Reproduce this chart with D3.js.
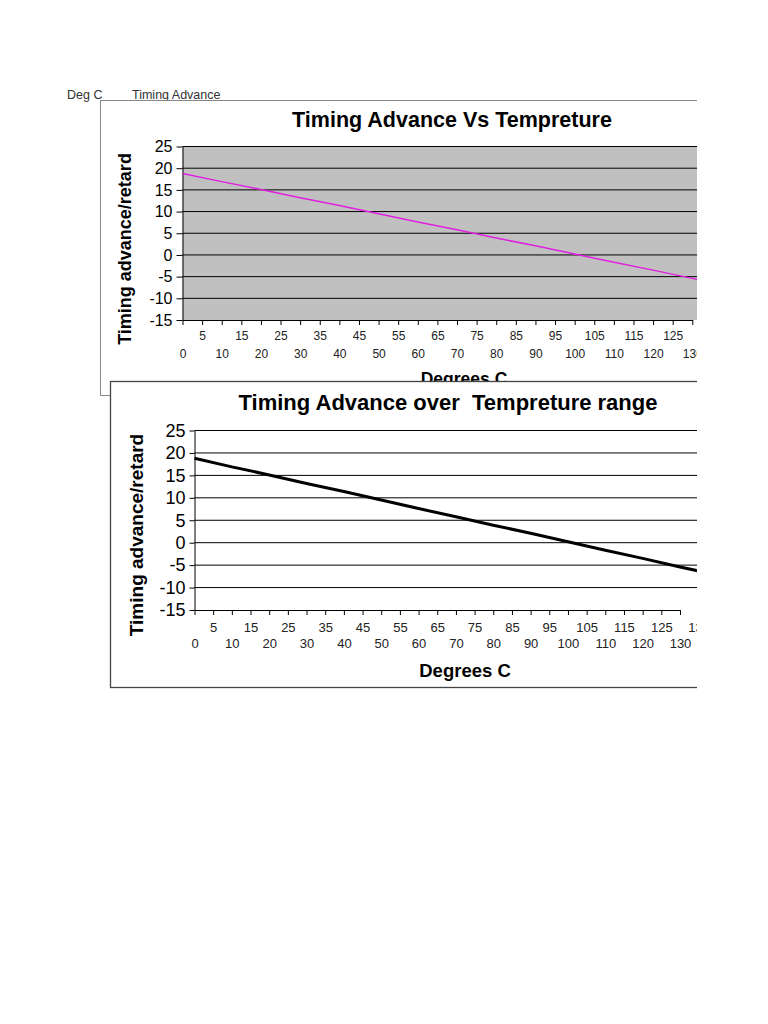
<!DOCTYPE html>
<html>
<head>
  <meta charset="utf-8">
  <script src="https://cdn.jsdelivr.net/npm/d3@7"></script>
  <style type="text/css">
    body {
      margin: 0;
      background: #fff;
    }
    text {
      font-family: Arial, "Liberation Sans", Helvetica, sans-serif;
    }
  </style>
</head>
<body>
  <script type="text/javascript">

  // Spreadsheet data: degrees C vs timing advance
  const degrees = [0, 10, 20, 30, 40, 50, 60, 70, 80, 90, 100, 110, 120, 130, 135];
  const advance = [18.8, 16.9, 15.1, 13.2, 11.4, 9.5, 7.6, 5.8, 3.9, 2.1, 0.2, -1.7, -3.5, -5.4, -6.3];

  const yTicks = [-15, -10, -5, 0, 5, 10, 15, 20, 25];
  const xTicksOdd = [5, 15, 25, 35, 45, 55, 65, 75, 85, 95, 105, 115, 125, 135];
  const xTicksEven = [0, 10, 20, 30, 40, 50, 60, 70, 80, 90, 100, 110, 120, 130];

  const points = degrees.map((d, i) => ({deg: d, adv: advance[i]}));

  const svg = d3.select('body').append('svg')
    .attr('width', 768)
    .attr('height', 1024);

  // header cells of the sheet
  svg.append('text').attr('x', 67).attr('y', 99)
    .attr('font-size', 12.5).attr('fill', '#333').text('Deg C');
  svg.append('text').attr('x', 132).attr('y', 99)
    .attr('font-size', 12.5).attr('fill', '#333').text('Timing Advance');

  // the printed page cuts the charts off on the right
  svg.append('clipPath').attr('id', 'page')
    .append('rect').attr('x', 0).attr('y', 0).attr('width', 697).attr('height', 1024);
  const page = svg.append('g').attr('clip-path', 'url(#page)');

  function drawChart(c) {
    const g = page.append('g');

    // chart frame
    g.append('rect')
      .attr('x', c.frame.x).attr('y', c.frame.y)
      .attr('width', c.frame.w).attr('height', c.frame.h)
      .attr('fill', '#fff')
      .attr('stroke', c.frame.stroke)
      .attr('stroke-width', c.frame.sw);

    const x = d3.scaleLinear().domain([0, 130]).range([c.left, c.x130]);
    const y = d3.scaleLinear().domain([-15, 25]).range([c.bottom, c.top]);

    // plot area
    g.append('rect')
      .attr('x', c.left).attr('y', c.top)
      .attr('width', 800).attr('height', c.bottom - c.top)
      .attr('fill', c.plotFill);

    // gridlines
    g.append('g').selectAll('line').data(yTicks.filter(t => t > -15)).join('line')
      .attr('x1', c.left).attr('x2', 800)
      .attr('y1', d => y(d)).attr('y2', d => y(d))
      .attr('stroke', '#000').attr('stroke-width', 1);

    // y axis (plain hyphen minus like the sheet)
    const gy = g.append('g')
      .attr('transform', `translate(${c.left},0)`)
      .call(d3.axisLeft(y).tickValues(yTicks).tickFormat(d => String(d))
        .tickSize(c.yTickSize).tickSizeOuter(0).tickPadding(c.yPad));
    gy.select('.domain').attr('stroke', '#000');
    gy.selectAll('.tick line').attr('stroke', '#000');
    gy.selectAll('text').attr('font-size', c.yFont).attr('fill', '#000')
      .attr('font-family', 'Arial, "Liberation Sans", sans-serif');

    // x axis, labels in two staggered rows
    const gx1 = g.append('g')
      .attr('transform', `translate(0,${c.bottom})`)
      .call(d3.axisBottom(x).tickValues(xTicksOdd).tickFormat(d => String(d))
        .tickSize(5).tickSizeOuter(0).tickPadding(c.row1Pad));
    const gx2 = g.append('g')
      .attr('transform', `translate(0,${c.bottom})`)
      .call(d3.axisBottom(x).tickValues(xTicksEven).tickFormat(d => String(d))
        .tickSize(5).tickSizeOuter(0).tickPadding(c.row2Pad));
    gx1.select('.domain').attr('stroke', '#000');
    gx2.select('.domain').attr('stroke', '#000');
    [gx1, gx2].forEach(a => {
      a.selectAll('.tick line').attr('stroke', '#000');
      a.selectAll('text').attr('font-size', c.xFont).attr('fill', '#222')
        .attr('font-family', 'Arial, "Liberation Sans", sans-serif');
    });

    // the series
    g.append('path')
      .datum(points)
      .attr('fill', 'none')
      .attr('stroke', c.lineColor)
      .attr('stroke-width', c.lineWidth)
      .attr('d', d3.line().x(d => x(d.deg)).y(d => y(d.adv)));

    // titles
    g.append('text')
      .attr('x', c.title.x).attr('y', c.title.y)
      .attr('text-anchor', 'middle')
      .attr('font-size', c.title.size).attr('font-weight', 'bold')
      .style('white-space', 'pre')
      .text(c.title.text);

    g.append('text')
      .attr('transform', `translate(${c.yTitle.x},${c.yTitle.y}) rotate(-90)`)
      .attr('text-anchor', 'middle')
      .attr('font-size', c.yTitle.size).attr('font-weight', 'bold')
      .text('Timing advance/retard');

    g.append('text')
      .attr('x', c.xTitle.x).attr('y', c.xTitle.y)
      .attr('text-anchor', 'middle')
      .attr('font-size', c.xTitle.size).attr('font-weight', 'bold')
      .text('Degrees C');
  }

  // upper chart
  drawChart({
    frame: {x: 100.5, y: 100.5, w: 700, h: 295, stroke: '#888', sw: 1},
    left: 182.5, x130: 692.3, top: 146.5, bottom: 320,
    plotFill: '#c0c0c0',
    yTickSize: 6, yPad: 4, yFont: 16,
    row1Pad: 6, row2Pad: 24, xFont: 12,
    lineColor: '#e020e0', lineWidth: 1.5,
    title: {x: 452, y: 127, size: 21.5, text: 'Timing Advance Vs Tempreture'},
    yTitle: {x: 131, y: 249, size: 18},
    xTitle: {x: 464, y: 385, size: 17.5}
  });

  // lower chart, drawn over the bottom of the upper one
  drawChart({
    frame: {x: 110.5, y: 381.5, w: 700, h: 306, stroke: '#444', sw: 1.3},
    left: 194.5, x130: 680, top: 430.5, bottom: 610,
    plotFill: '#fff',
    yTickSize: 5, yPad: 4, yFont: 18,
    row1Pad: 7.5, row2Pad: 23.5, xFont: 13,
    lineColor: '#000', lineWidth: 3,
    title: {x: 448, y: 410, size: 22, text: 'Timing Advance over  Tempreture range'},
    yTitle: {x: 143, y: 535, size: 19},
    xTitle: {x: 465, y: 677, size: 18.5}
  });

  </script>
</body>
</html>
